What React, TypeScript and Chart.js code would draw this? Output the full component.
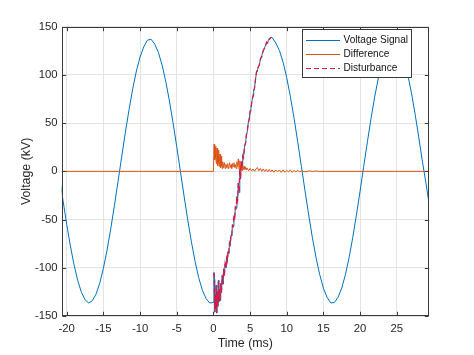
import React, { useEffect, useRef } from "react";
import { Chart, registerables } from "chart.js";

Chart.register(...registerables);

// ---- axis ticks / labels ----
const xTicks = [-20, -15, -10, -5, 0, 5, 10, 15, 20, 25];
const yTicks = [-150, -100, -50, 0, 50, 100, 150];
const seriesNames = ["Voltage Signal", "Difference", "Disturbance"];
const xLabel = "Time (ms)";
const yLabel = "Voltage (kV)";

// ---- Voltage signal before the event (ms, kV) ----
const preTime = [
  -21, -20.5, -20, -19.5, -19, -18.5, -18, -17.5, -17, -16.5, -16, -15.5, -15, -14.5, -14,
  -13.5, -13, -12.5, -12, -11.5, -11, -10.5, -10, -9.5, -9, -8.5, -8, -7.5, -7, -6.5, -6,
  -5.5, -5, -4.5, -4, -3.5, -3, -2.5, -2, -1.5, -1, -0.5, 0,
];
const preVolt = [
  -5, -30.6, -55, -77.4, -97.1, -113.2, -125.4, -133.1, -136.5, -134, -127.3, -116, -100.6,
  -81.6, -59.7, -35.6, -10.3, 15.4, 40.6, 64.2, 85.7, 104, 118.6, 129, 136, 137, 131.9, 123.3,
  110.3, 93.4, 73.1, 50.2, 25.6, 0, -25.6, -50.3, -73.1, -93.4, -110.3, -123.3, -131.9, -136.5,
  -136,
];

// ---- Disturbance (ms, kV) ----
const distTime = [
  0.08, 0.12, 0.18, 0.25, 0.3, 0.38, 0.45, 0.52, 0.6, 0.68, 0.75, 0.82, 0.9, 1.0, 1.1, 1.2,
  1.3, 1.4, 1.5, 1.6, 1.7, 1.8, 1.9, 2.0, 2.1, 2.2, 2.3, 2.4, 2.5, 2.6, 2.7, 2.8, 2.9, 3.0,
  3.1, 3.2, 3.3, 3.4, 3.5, 3.6, 3.7, 3.8, 3.9, 4.0, 4.1, 4.25, 4.4, 4.5, 4.6, 4.75, 4.9, 5.0,
  5.1, 5.25, 5.4, 5.5, 5.6, 5.75, 5.9, 6.0, 6.1, 6.25, 6.4, 6.5, 6.6, 6.75, 6.9, 7.0, 7.15,
  7.25, 7.4, 7.5, 7.6, 7.75, 7.85,
];
const distVolt = [
  -105, -112, -146, -128, -142, -118, -147, -125, -140, -113, -135, -122, -134, -116, -126,
  -108, -117, -101, -108, -96, -100, -90, -93, -83, -85, -74, -76, -66, -67, -56, -57, -46,
  -48, -37, -38, -26, -30, -12, -22, 2, -8, 10, 4, 16, 14, 26, 30, 38, 40, 50, 55, 62, 64, 73,
  78, 84, 86, 96, 104, 104, 108, 110, 116, 118, 120, 124, 127, 129, 131, 134, 133, 136, 137,
  138, 139,
];

// ---- Voltage signal after the disturbance (ms, kV) ----
const postTime = [
  8, 8.5, 9, 9.5, 10, 10.5, 11, 11.5, 12, 12.5, 13, 13.5, 14, 14.5, 15, 15.5, 16, 16.5, 17,
  17.5, 18, 18.5, 19, 19.5, 20, 20.5, 21, 21.5, 22, 22.5, 23, 23.5, 24, 24.5, 25, 25.5, 26,
  26.5, 27, 27.5, 28, 28.5, 29, 29.5,
];
const postVolt = [
  139, 133.1, 125.4, 113.2, 97.1, 77.4, 55, 30.6, 5.1, -20.5, -45.4, -68.8, -89.6, -107.2,
  -121.1, -130.6, -136.5, -136, -130.6, -121.1, -107.2, -89.6, -68.7, -45.4, -20.5, 5.2, 30.6,
  55, 77.4, 97.1, 113.3, 125.4, 133.1, 136, 134, 127.3, 116, 100.6, 81.6, 59.6, 35.6, 10.3,
  -13, -38,
];

// ---- Difference (ms, kV) ----
const diffTime = [
  -21, 0, 0.05, 0.1, 0.15, 0.2, 0.25, 0.3, 0.35, 0.4, 0.45, 0.5, 0.55, 0.6, 0.65, 0.7, 0.75,
  0.8, 0.85, 0.9, 0.95, 1.0, 1.05, 1.1, 1.15, 1.2, 1.25, 1.3, 1.35, 1.4, 1.5, 1.6, 1.7, 1.8,
  1.9, 2.0, 2.1, 2.2, 2.3, 2.4, 2.5, 2.6, 2.7, 2.8, 2.9, 3.0, 3.1, 3.2, 3.3, 3.4, 3.5, 3.6,
  3.7, 3.8, 3.9, 4.0, 4.1, 4.2, 4.3, 4.4, 4.5, 4.6, 4.8, 5.0, 5.2, 5.4, 5.6, 5.8, 6.0, 6.2,
  6.4, 6.6, 6.8, 7.0, 7.2, 7.4, 7.6, 7.8, 8.0, 8.25, 8.5, 8.75, 9.0, 9.25, 9.5, 9.75, 10.0,
  10.25, 10.5, 10.75, 11.0, 11.25, 11.5, 11.75, 12, 12.5, 13, 13.5, 14, 14.5, 29.5,
];
const diffVolt = [
  0, 0, 0, 28, 22, 12, 18, 26, 14, 8, 20, 24, 10, 6, 17, 22, 9, 5, 14, 18, 7, 4, 12, 16, 6, 3,
  8, 10, 4, 6, 9, 3, 7, 4, 8, 3, 6, 9, 4, 7, 3, 8, 5, 9, 4, 7, 3, 10, 5, 13, 2, 11, -2, 9, 1, 6,
  2, 5, 2, 4, 1.5, 3.5, 0.5, 3, 0.5, 2.5, 0, 2.5, 4, 0.5, 3, 0, 2.5, 0, 2, -0.5, 2, -0.5, 1.5,
  -1, 1.5, -0.5, 1.5, -1, 1.5, -1, 1, -0.5, 1.5, -1, 1, -0.5, 1, -0.5, 0.5, -0.5, 0.5, 0, 0.3,
  0, 0,
];

const BLUE = "#0072BD";
const ORANGE = "#D95319";
const RED = "#E0183F";
const GRID = "#e3e3e3";
const AXIS = "#3a3a3a";
const TEXT = "#262626";
const FAMILY = '"Liberation Sans", Arial, Helvetica, sans-serif';

const frameAndLegend = {
  id: "frameAndLegend",
  afterDraw(chart: any) {
    const { ctx, chartArea: a, scales } = chart;
    const L = Math.round(a.left) + 0.5;
    const R = Math.round(a.right) - 0.5;
    const T = Math.round(a.top) + 0.5;
    const B = Math.round(a.bottom) - 0.5;
    const tl = 3.7;
    ctx.save();
    ctx.strokeStyle = AXIS;
    ctx.lineWidth = 1;
    ctx.strokeRect(L, T, R - L, B - T);
    ctx.beginPath();
    for (const v of xTicks) {
      const px = Math.round(scales.x.getPixelForValue(v)) + 0.5;
      ctx.moveTo(px, B);
      ctx.lineTo(px, B - tl);
      ctx.moveTo(px, T);
      ctx.lineTo(px, T + tl);
    }
    for (const v of yTicks) {
      const py = Math.round(scales.y.getPixelForValue(v)) + 0.5;
      ctx.moveTo(L, py);
      ctx.lineTo(L + tl, py);
      ctx.moveTo(R, py);
      ctx.lineTo(R - tl, py);
    }
    ctx.stroke();

    // legend (inside, north-east)
    const bx = 302.5, by = 29.5, bw = 109, bh = 48;
    ctx.fillStyle = "#ffffff";
    ctx.fillRect(bx, by, bw, bh);
    ctx.strokeStyle = AXIS;
    ctx.lineWidth = 1;
    ctx.strokeRect(bx, by, bw, bh);
    const colors = [BLUE, ORANGE, RED];
    const dashes = [[], [], [5, 3]];
    ctx.font = `10.1px ${FAMILY}`;
    ctx.textBaseline = "middle";
    ctx.textAlign = "left";
    seriesNames.forEach((name, i) => {
      const y = 40 + i * 14;
      ctx.beginPath();
      ctx.setLineDash(dashes[i]);
      ctx.strokeStyle = colors[i];
      ctx.lineWidth = i === 2 ? 1.2 : 1;
      ctx.moveTo(306, y + 0.5);
      ctx.lineTo(340, y + 0.5);
      ctx.stroke();
      ctx.setLineDash([]);
      ctx.fillStyle = "#111111";
      ctx.fillText(name, 343.5, y + 0.5);
    });
    ctx.restore();
  },
};

export default function App() {
  const ref = useRef<HTMLCanvasElement>(null);
  useEffect(() => {
    const canvas = ref.current!;
    const toPts = (t: number[], v: number[]) => t.map((x, i) => ({ x, y: v[i] }));
    const blueData = [
      ...toPts(preTime, preVolt),
      ...toPts(distTime, distVolt),
      ...toPts(postTime, postVolt),
    ];
    const tickFont = { family: FAMILY, size: 11.3 };
    const titleFont = { family: FAMILY, size: 12.4 };
    const chart = new Chart(canvas, {
      type: "line",
      data: {
        datasets: [
          {
            label: seriesNames[2],
            data: toPts(distTime, distVolt),
            borderColor: RED,
            borderWidth: 1.3,
            borderDash: [5, 3],
            pointRadius: 0,
            tension: 0,
            order: 0,
          },
          {
            label: seriesNames[1],
            data: toPts(diffTime, diffVolt),
            borderColor: ORANGE,
            borderWidth: 1,
            pointRadius: 0,
            tension: 0,
            order: 1,
          },
          {
            label: seriesNames[0],
            data: blueData,
            borderColor: BLUE,
            borderWidth: 1,
            pointRadius: 0,
            tension: 0,
            order: 2,
          },
        ],
      },
      options: {
        responsive: false,
        animation: false,
        devicePixelRatio: 1,
        layout: { padding: { top: 26.7, right: 45, left: 0, bottom: 0 } },
        plugins: { legend: { display: false }, tooltip: { enabled: false } },
        scales: {
          x: {
            type: "linear",
            min: -20.7,
            max: 29.4,
            afterFit: (s: any) => {
              s.height = 39;
            },
            afterBuildTicks: (s: any) => {
              s.ticks = xTicks.map((value) => ({ value }));
            },
            grid: { color: GRID, drawTicks: false, lineWidth: 1 },
            border: { display: false },
            ticks: {
              font: tickFont,
              color: TEXT,
              padding: 6,
              maxRotation: 0,
              autoSkip: false,
            },
            title: {
              display: true,
              text: xLabel,
              font: titleFont,
              color: TEXT,
              padding: { top: 0, bottom: 4 },
            },
          },
          y: {
            type: "linear",
            min: -150,
            max: 150,
            afterFit: (s: any) => {
              s.width = 61.6;
            },
            afterBuildTicks: (s: any) => {
              s.ticks = yTicks.map((value) => ({ value }));
            },
            grid: { color: GRID, drawTicks: false, lineWidth: 1 },
            border: { display: false },
            ticks: { font: tickFont, color: TEXT, padding: 4, autoSkip: false },
            title: {
              display: true,
              text: yLabel,
              font: titleFont,
              color: TEXT,
              padding: { top: 19, bottom: 0 },
            },
          },
        },
      },
      plugins: [frameAndLegend],
    } as any);
    return () => chart.destroy();
  }, []);
  return (
    <div style={{ position: "fixed", left: 0, top: 0, width: 474, height: 355, background: "#fff" }}>
      <canvas ref={ref} width={474} height={355} style={{ display: "block", width: 474, height: 355 }} />
    </div>
  );
}
